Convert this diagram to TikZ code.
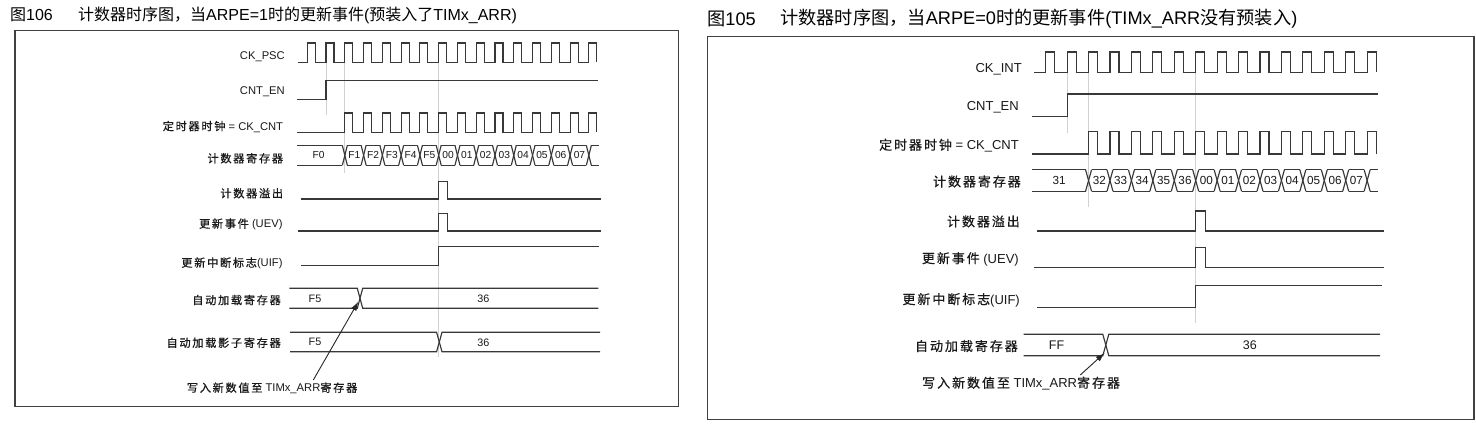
\documentclass[tikz,border=0pt]{standalone}
\usepackage{fontspec}
\setmainfont{Liberation Sans}
\newfontfamily\cjk[LetterSpace=15,FakeBold=0.6]{Noto Sans CJK SC}
\newfontfamily\cjkt{Noto Sans CJK SC}
\usetikzlibrary{arrows.meta}
\tikzset{
  wave/.style={line width=1.15pt, draw=black!78, line cap=butt, line join=miter},
  guide/.style={line width=0.8pt, draw=black!18},
  frame/.style={line width=1.2pt, draw=black!75},
  lbl/.style={anchor=east, inner sep=0pt, text=black!90},
  lblL/.style={lbl, font=\fontsize{11.2}{13}\selectfont},
  lblR/.style={lbl, font=\fontsize{13}{15}\selectfont},
  cellL/.style={inner sep=0pt, text=black!90, font=\fontsize{10.2}{12}\selectfont},
  cellR/.style={inner sep=0pt, text=black!90, font=\fontsize{11.7}{13}\selectfont},
  ttlL/.style={anchor=west, inner sep=0pt, text=black, font=\fontsize{16}{18}\selectfont},
  ttlR/.style={anchor=west, inner sep=0pt, text=black, font=\fontsize{18.2}{20}\selectfont},
  note/.style={anchor=west, inner sep=0pt, text=black!90},
  ptr/.style={line width=0.9pt, draw=black!85, -{Latex[length=9pt,width=6pt]}},
}
\begin{document}
\begin{tikzpicture}[x=1pt,y=-1pt]
\useasboundingbox (0,0) rectangle (1476,429);
\fill[white] (0,0) rectangle (1476,429);

% ================= titles =================
\node[ttlL] (t106) at (10,15) {{\cjkt 图}106};
\node[ttlL] (t106b) at (78,15) {{\cjkt 计数器时序图，当}ARPE=1{\cjkt 时的更新事件}({\cjkt 预装入了}TIMx\_ARR)};
\node[ttlR] (t105) at (707,19) {{\cjkt 图}105};
\node[ttlR] (t105b) at (780,19) {{\cjkt 计数器时序图，当}ARPE=0{\cjkt 时的更新事件}(TIMx\_ARR{\cjkt 没有预装入})};

% ================= frames =================
\draw[frame] (15,30.7) rectangle (678.3,406.7);
\draw[frame] (707.3,36.7) rectangle (1474,419.3);

% ================= LEFT DIAGRAM =================
\def\Lx{307.3}\def\Lp{18.77}\def\Lh{8}\def\Ld{2.5}
% guides
\draw[guide] ({\Lx+\Lp},62) -- ({\Lx+\Lp},114.7);
\draw[guide] ({\Lx+2*\Lp},62) -- ({\Lx+2*\Lp},173);
\draw[guide] ({\Lx+7*\Lp},62) -- ({\Lx+7*\Lp},357);

% labels
\node[lblL] (lpsc) at (285,56.7) {CK\_PSC};
\node[lblL] (len) at (285,91.7) {CNT\_EN};
\node[lblL] (lcnt) at (283.3,126.7) {{\cjk 定时器时钟} = CK\_CNT};
\node[lblL] (lreg) at (283.3,158.3) {\cjk 计数器寄存器};
\node[lblL] (lovf) at (283.3,193.3) {\cjk 计数器溢出};
\node[lblL] (luev) at (282.7,224.3) {{\cjk 更新事件} (UEV)};
\node[lblL] (luif) at (282.7,263.3) {{\cjk 更新中断标志}(UIF)};
\node[lblL] (larr) at (281,300) {\cjk 自动加载寄存器};
\node[lblL] (lsh) at (281,342.7) {\cjk 自动加载影子寄存器};
\node[note, font=\fontsize{11.2}{13}\selectfont] (lnote) at (186.7,388.3) {{\cjk 写入新数值至} TIMx\_ARR{\cjk 寄存器}};

% CK_PSC
\draw[wave] (298.3,62.3) \foreach \k in {0,...,15}{ -- ({\Lx+\Lp*\k},62.3) -- ({\Lx+\Lp*\k},43) -- ({\Lx+\Lp*\k+\Lh},43) -- ({\Lx+\Lp*\k+\Lh},62.3) };
% CNT_EN
\draw[wave] (297.3,99.7) -- ({\Lx+\Lp},99.7) -- ({\Lx+\Lp},80.3) -- (598,80.3);
% CK_CNT
\draw[wave] (297.3,132.3) \foreach \k in {2,...,15}{ -- ({\Lx+\Lp*\k},132.3) -- ({\Lx+\Lp*\k},113) -- ({\Lx+\Lp*\k+\Lh},113) -- ({\Lx+\Lp*\k+\Lh},132.3) };
% counter bus
\draw[wave] (297,145.3) -- ({\Lx+2*\Lp-\Ld},145.3);
\draw[wave] (297,165.3) -- ({\Lx+2*\Lp-\Ld},165.3);
\foreach \k in {2,...,15}{
  \draw[wave] ({\Lx+\Lp*\k-\Ld},145.3) -- ({\Lx+\Lp*\k+\Ld},165.3);
  \draw[wave] ({\Lx+\Lp*\k-\Ld},165.3) -- ({\Lx+\Lp*\k+\Ld},145.3);
}
\foreach \k in {2,...,14}{
  \draw[wave] ({\Lx+\Lp*\k+\Ld},145.3) -- ({\Lx+\Lp*(\k+1)-\Ld},145.3);
  \draw[wave] ({\Lx+\Lp*\k+\Ld},165.3) -- ({\Lx+\Lp*(\k+1)-\Ld},165.3);
}
\draw[wave] ({\Lx+15*\Lp+\Ld},145.3) -- (599,145.3);
\draw[wave] ({\Lx+15*\Lp+\Ld},165.3) -- (599,165.3);
\node[cellL] (lc1) at (318.5,155.3) {F0};
\foreach \k/\v in {2/F1,3/F2,4/F3,5/F4,6/F5,7/00,8/01,9/02,10/03,11/04,12/05,13/06,14/07}{
  \node[cellL] (lc\k) at ({\Lx+\Lp*(\k+0.5)},155.3) {\v};
}
% overflow
\draw[wave] (300.7,199) -- (438.3,199) -- (438.3,181.7) -- (447.3,181.7) -- (447.3,199) -- (600.7,199);
% UEV
\draw[wave] (297.7,231) -- (438.3,231) -- (438.3,213.3) -- (447.3,213.3) -- (447.3,231) -- (600.7,231);
% UIF
\draw[wave] (301,265.7) -- (438.3,265.7) -- (438.3,246.7) -- (599.3,246.7);
% ARR
\draw[wave] (289.3,288.3) -- (357.3,288.3) -- (362.7,308.3) -- (598.3,308.3);
\draw[wave] (289.3,308.3) -- (357.3,308.3) -- (362.7,288.3) -- (598.3,288.3);
\node[cellL, font=\fontsize{10.8}{12}\selectfont] (la1) at (315,298.8) {F5};
\node[cellL, font=\fontsize{10.8}{12}\selectfont] (la2) at (483.3,298.8) {36};
% shadow
\draw[wave] (290,332.3) -- (436.6,332.3) -- (442,351.7) -- (600,351.7);
\draw[wave] (290,351.7) -- (436.6,351.7) -- (442,332.3) -- (600,332.3);
\node[cellL, font=\fontsize{10.8}{12}\selectfont] (ls1) at (315,342.3) {F5};
\node[cellL, font=\fontsize{10.8}{12}\selectfont] (ls2) at (483.3,342.3) {36};
% pointer
\coordinate (lp0) at (313.3,380);
\coordinate (lp1) at (358.3,301.7);
\draw[ptr] (lp0) -- (lp1);

% ================= RIGHT DIAGRAM =================
\def\Rx{1045.7}\def\Rp{21.43}\def\Rh{9}\def\Rd{3}
\draw[guide] ({\Rx+\Rp},72) -- ({\Rx+\Rp},133);
\draw[guide] ({\Rx+2*\Rp},72) -- ({\Rx+2*\Rp},207);
\draw[guide] ({\Rx+7*\Rp},72) -- ({\Rx+7*\Rp},323);

\node[lblR] (rint) at (1022,69) {CK\_INT};
\node[lblR] (ren) at (1019,107) {CNT\_EN};
\node[lblR] (rcnt) at (1019,145.5) {{\cjk 定时器时钟} = CK\_CNT};
\node[lblR] (rreg) at (1021,181.5) {\cjk 计数器寄存器};
\node[lblR] (rovf) at (1020,221.5) {\cjk 计数器溢出};
\node[lblR] (ruev) at (1019,259) {{\cjk 更新事件} (UEV)};
\node[lblR] (ruif) at (1020,300) {{\cjk 更新中断标志}(UIF)};
\node[lblR] (rarr) at (1018,346) {\cjk 自动加载寄存器};
\node[note, font=\fontsize{13}{15}\selectfont] (rnote) at (922,383.5) {{\cjk 写入新数值至} TIMx\_ARR{\cjk 寄存器}};

% CK_INT
\draw[wave] (1034.3,72.3) \foreach \k in {0,...,15}{ -- ({\Rx+\Rp*\k},72.3) -- ({\Rx+\Rp*\k},52) -- ({\Rx+\Rp*\k+\Rh},52) -- ({\Rx+\Rp*\k+\Rh},72.3) };
% CNT_EN
\draw[wave] (1032,116.3) -- ({\Rx+\Rp},116.3) -- ({\Rx+\Rp},94) -- (1378,94);
% CK_CNT
\draw[wave] (1032,154) \foreach \k in {2,...,15}{ -- ({\Rx+\Rp*\k},154) -- ({\Rx+\Rp*\k},131.3) -- ({\Rx+\Rp*\k+\Rh},131.3) -- ({\Rx+\Rp*\k+\Rh},154) };
% counter bus
\draw[wave] (1032,169.7) -- ({\Rx+2*\Rp-\Rd},169.7);
\draw[wave] (1032,191.3) -- ({\Rx+2*\Rp-\Rd},191.3);
\foreach \k in {2,...,15}{
  \draw[wave] ({\Rx+\Rp*\k-\Rd},169.7) -- ({\Rx+\Rp*\k+\Rd},191.3);
  \draw[wave] ({\Rx+\Rp*\k-\Rd},191.3) -- ({\Rx+\Rp*\k+\Rd},169.7);
}
\foreach \k in {2,...,14}{
  \draw[wave] ({\Rx+\Rp*\k+\Rd},169.7) -- ({\Rx+\Rp*(\k+1)-\Rd},169.7);
  \draw[wave] ({\Rx+\Rp*\k+\Rd},191.3) -- ({\Rx+\Rp*(\k+1)-\Rd},191.3);
}
\draw[wave] ({\Rx+15*\Rp+\Rd},169.7) -- (1378,169.7);
\draw[wave] ({\Rx+15*\Rp+\Rd},191.3) -- (1378,191.3);
\node[cellR] (rc1) at (1059,180.5) {31};
\foreach \k/\v in {2/32,3/33,4/34,5/35,6/36,7/00,8/01,9/02,10/03,11/04,12/05,13/06,14/07}{
  \node[cellR] (rc\k) at ({\Rx+\Rp*(\k+0.5)},180.5) {\v};
}
% overflow
\draw[wave] (1037,231) -- ({\Rx+7*\Rp},231) -- ({\Rx+7*\Rp},211) -- ({\Rx+7*\Rp+10},211) -- ({\Rx+7*\Rp+10},231) -- (1383.7,231);
% UEV
\draw[wave] (1034,267.7) -- ({\Rx+7*\Rp},267.7) -- ({\Rx+7*\Rp},247.7) -- ({\Rx+7*\Rp+10},247.7) -- ({\Rx+7*\Rp+10},267.7) -- (1383.7,267.7);
% UIF
\draw[wave] (1037,307.3) -- ({\Rx+7*\Rp},307.3) -- ({\Rx+7*\Rp},285.7) -- (1382,285.7);
% ARR
\draw[wave] (1023.7,334.3) -- (1102.8,334.3) -- (1108.8,355.7) -- (1380,355.7);
\draw[wave] (1023.7,355.7) -- (1102.8,355.7) -- (1108.8,334.3) -- (1380,334.3);
\node[cellR, font=\fontsize{12.5}{14}\selectfont] (ra1) at (1056.6,345) {FF};
\node[cellR, font=\fontsize{12.5}{14}\selectfont] (ra2) at (1249.8,345) {36};
\coordinate (rp0) at (1080.3,375);
\coordinate (rp1) at (1104.5,353);
\draw[ptr] (rp0) -- (rp1);
\end{tikzpicture}
\end{document}
